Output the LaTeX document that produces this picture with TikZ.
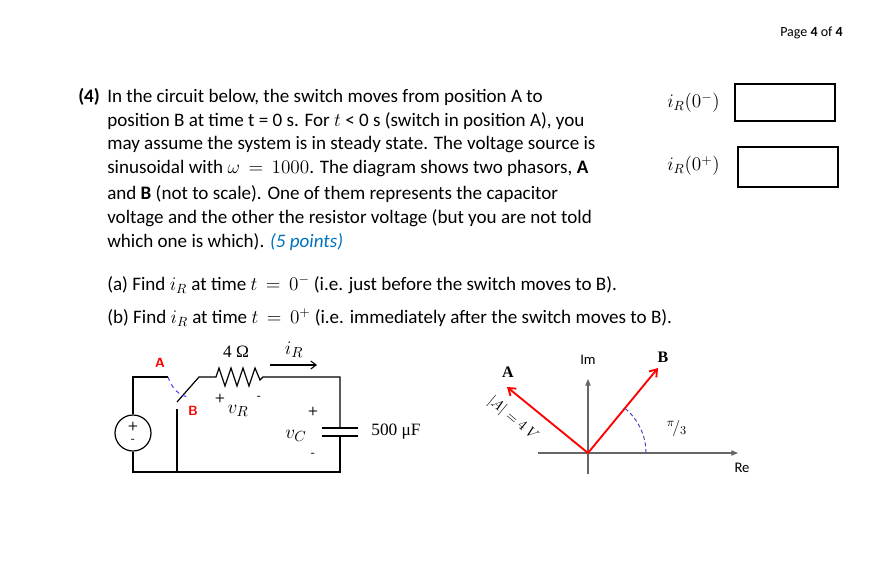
\documentclass[tikz,border=0pt]{standalone}
\usepackage{fontspec}
\setmainfont{Carlito}
\newfontfamily\lmr{Liberation Serif}
\usepackage{amsmath}
\usetikzlibrary{arrows.meta}
\definecolor{lnk}{RGB}{0,112,192}
\begin{document}
\begin{tikzpicture}[x=0.75pt,y=-0.75pt,
  txt/.style={anchor=west,inner sep=0pt,font=\fontsize{14.3}{16}\selectfont},
  wire/.style={line width=0.9pt},
  red lbl/.style={text=red,font=\sffamily\bfseries\fontsize{10}{11}\selectfont},
  pm/.style={font=\sffamily\bfseries\fontsize{9}{10}\selectfont},
  clbl/.style={font=\fontsize{13}{14}\selectfont},
  mlbl/.style={font=\fontsize{15}{16}\selectfont},
  vec/.style={red,line width=1.4pt,-{Straight Barb[length=5pt,width=7pt]}},
  ax/.style={gray!80!black,line width=0.8pt,-{Triangle[length=5pt,width=4pt]}},
  ans/.style={draw,line width=0.9pt}]
\useasboundingbox (0,0) rectangle (890,569);
\node[txt,font=\fontsize{10.5}{12}\selectfont] (pg) at (780,33) {Page \textbf{4} of \textbf{4}};
\node[txt] (n4) at (78,97) {\textbf{(4)}};
\node[txt] (l1) at (107,97) {In the circuit below, the switch moves from position A to};
\node[txt] (l2) at (107,121) {position B at time t = 0 s. For $t$ < 0 s (switch in position A), you};
\node[txt] (l3) at (107,145) {may assume the system is in steady state. The voltage source is};
\node[txt] (l4) at (107,169) {sinusoidal with $\omega\,=\,1000$. The diagram shows two phasors, \textbf{A}};
\node[txt] (l5) at (107,194) {and \textbf{B} (not to scale). One of them represents the capacitor};
\node[txt] (l6) at (107,218) {voltage and the other the resistor voltage (but you are not told};
\node[txt] (l7) at (107,242) {which one is which). \textcolor{lnk}{\textit{(5 points)}}};
\node[txt] (qa) at (107,285) {(a) Find $i_R$ at time $t\,=\,0^{-}$ (i.e. just before the switch moves to B).};
\node[txt] (qb) at (107,318) {(b) Find $i_R$ at time $t\,=\,0^{+}$ (i.e. immediately after the switch moves to B).};
\node[txt] (ia) at (667,103) {$i_R(0^{-})$};
\draw[ans] (735,84) rectangle (835,121);
\node[txt] (ib) at (667,166) {$i_R(0^{+})$};
\draw[ans] (738,147) rectangle (838,187);
% circuit
\coordinate (tl) at (133,377); \coordinate (bl) at (133,472);
\coordinate (br) at (340,472); \coordinate (tr) at (340,377);
\coordinate (sA) at (168,377); \coordinate (sB) at (177,402);
\coordinate (r1) at (199,377); \coordinate (r2) at (216,377); \coordinate (r3) at (263,377);
\node[draw,circle,line width=0.9pt,minimum size=36pt*0.75,inner sep=0pt] (src) at (133,433) {};
\node[pm] (sp) at (133,426) {+};
\node[pm] (sm) at (133,441) {-};
\draw[wire] (src.north) -- (tl) -- (sA);
\draw[wire] (src.south) -- (bl) -- (br) -- (340,436);
\draw[wire] (sB) -- (r1) -- (r2) -- (219,368) -- (225,386) -- (231,368) -- (237,386) -- (243,368) -- (249,386) -- (255,368) -- (260,380) -- (r3) -- (tr) -- (340,428);
\draw[wire] (177,409) -- (177,472);
\draw[wire] (322,428) -- (358,428); \draw[wire] (322,436) -- (358,436);
\draw[blue!70,dashed,line width=0.8pt] (168,377) .. controls (172,388) and (178,395) .. (188,397);
\node[red lbl] (la) at (160,363) {A};
\node[red lbl] (lb) at (193,411) {B};
\node[clbl] (ohm) at (236,352) {\lmr 4 Ω};
\node[mlbl] (irl) at (294,350) {$i_R$};
\draw[line width=0.8pt,-{Straight Barb[length=4pt,width=6pt]}] (270,365) -- (317,365);
\node[pm] (vp1) at (220,398) {+};
\node[pm] (vm1) at (259,398) {-};
\node[mlbl] (vr) at (238,411) {$v_R$};
\node[pm] (vp2) at (313,411) {+};
\node[mlbl] (vc) at (296,436) {$v_C$};
\node[pm] (vm2) at (313,455) {-};
\node[clbl] (cap) at (396,432) {\lmr 500 μF};
% phasors
\coordinate (O) at (588,453);
\coordinate (reE) at (738,453); \coordinate (reS) at (538,453);
\coordinate (imE) at (588,379); \coordinate (imS) at (588,474);
\draw[ax] (reS) -- (reE);
\draw[ax] (imS) -- (imE);
\node[font=\fontsize{11}{12}\selectfont] (re) at (742,468) {Re};
\node[font=\fontsize{11}{12}\selectfont] (im) at (588,360) {Im};
\coordinate (Ae) at (507,387); \coordinate (Be) at (658,368);
\draw[vec] (O) -- (Ae);
\draw[vec] (O) -- (Be);
\node[font=\lmr\bfseries\fontsize{12}{13}\selectfont] (An) at (508,372) {A};
\node[font=\lmr\bfseries\fontsize{12}{13}\selectfont] (Bn) at (663,357) {B};
\draw[blue!50!gray,densely dashed,line width=0.7pt] (646,453) arc[start angle=0,end angle=-50,radius=58];
\node[font=\fontsize{13}{14}\selectfont] (pi3) at (677,428) {$^{\pi}\!/_{3}$};
\node[font=\fontsize{11}{12}\selectfont,inner sep=0pt] (mag) at (513,419) {\rotatebox{-40}{$|A| = 4\ V$}};
\end{tikzpicture}
\end{document}
